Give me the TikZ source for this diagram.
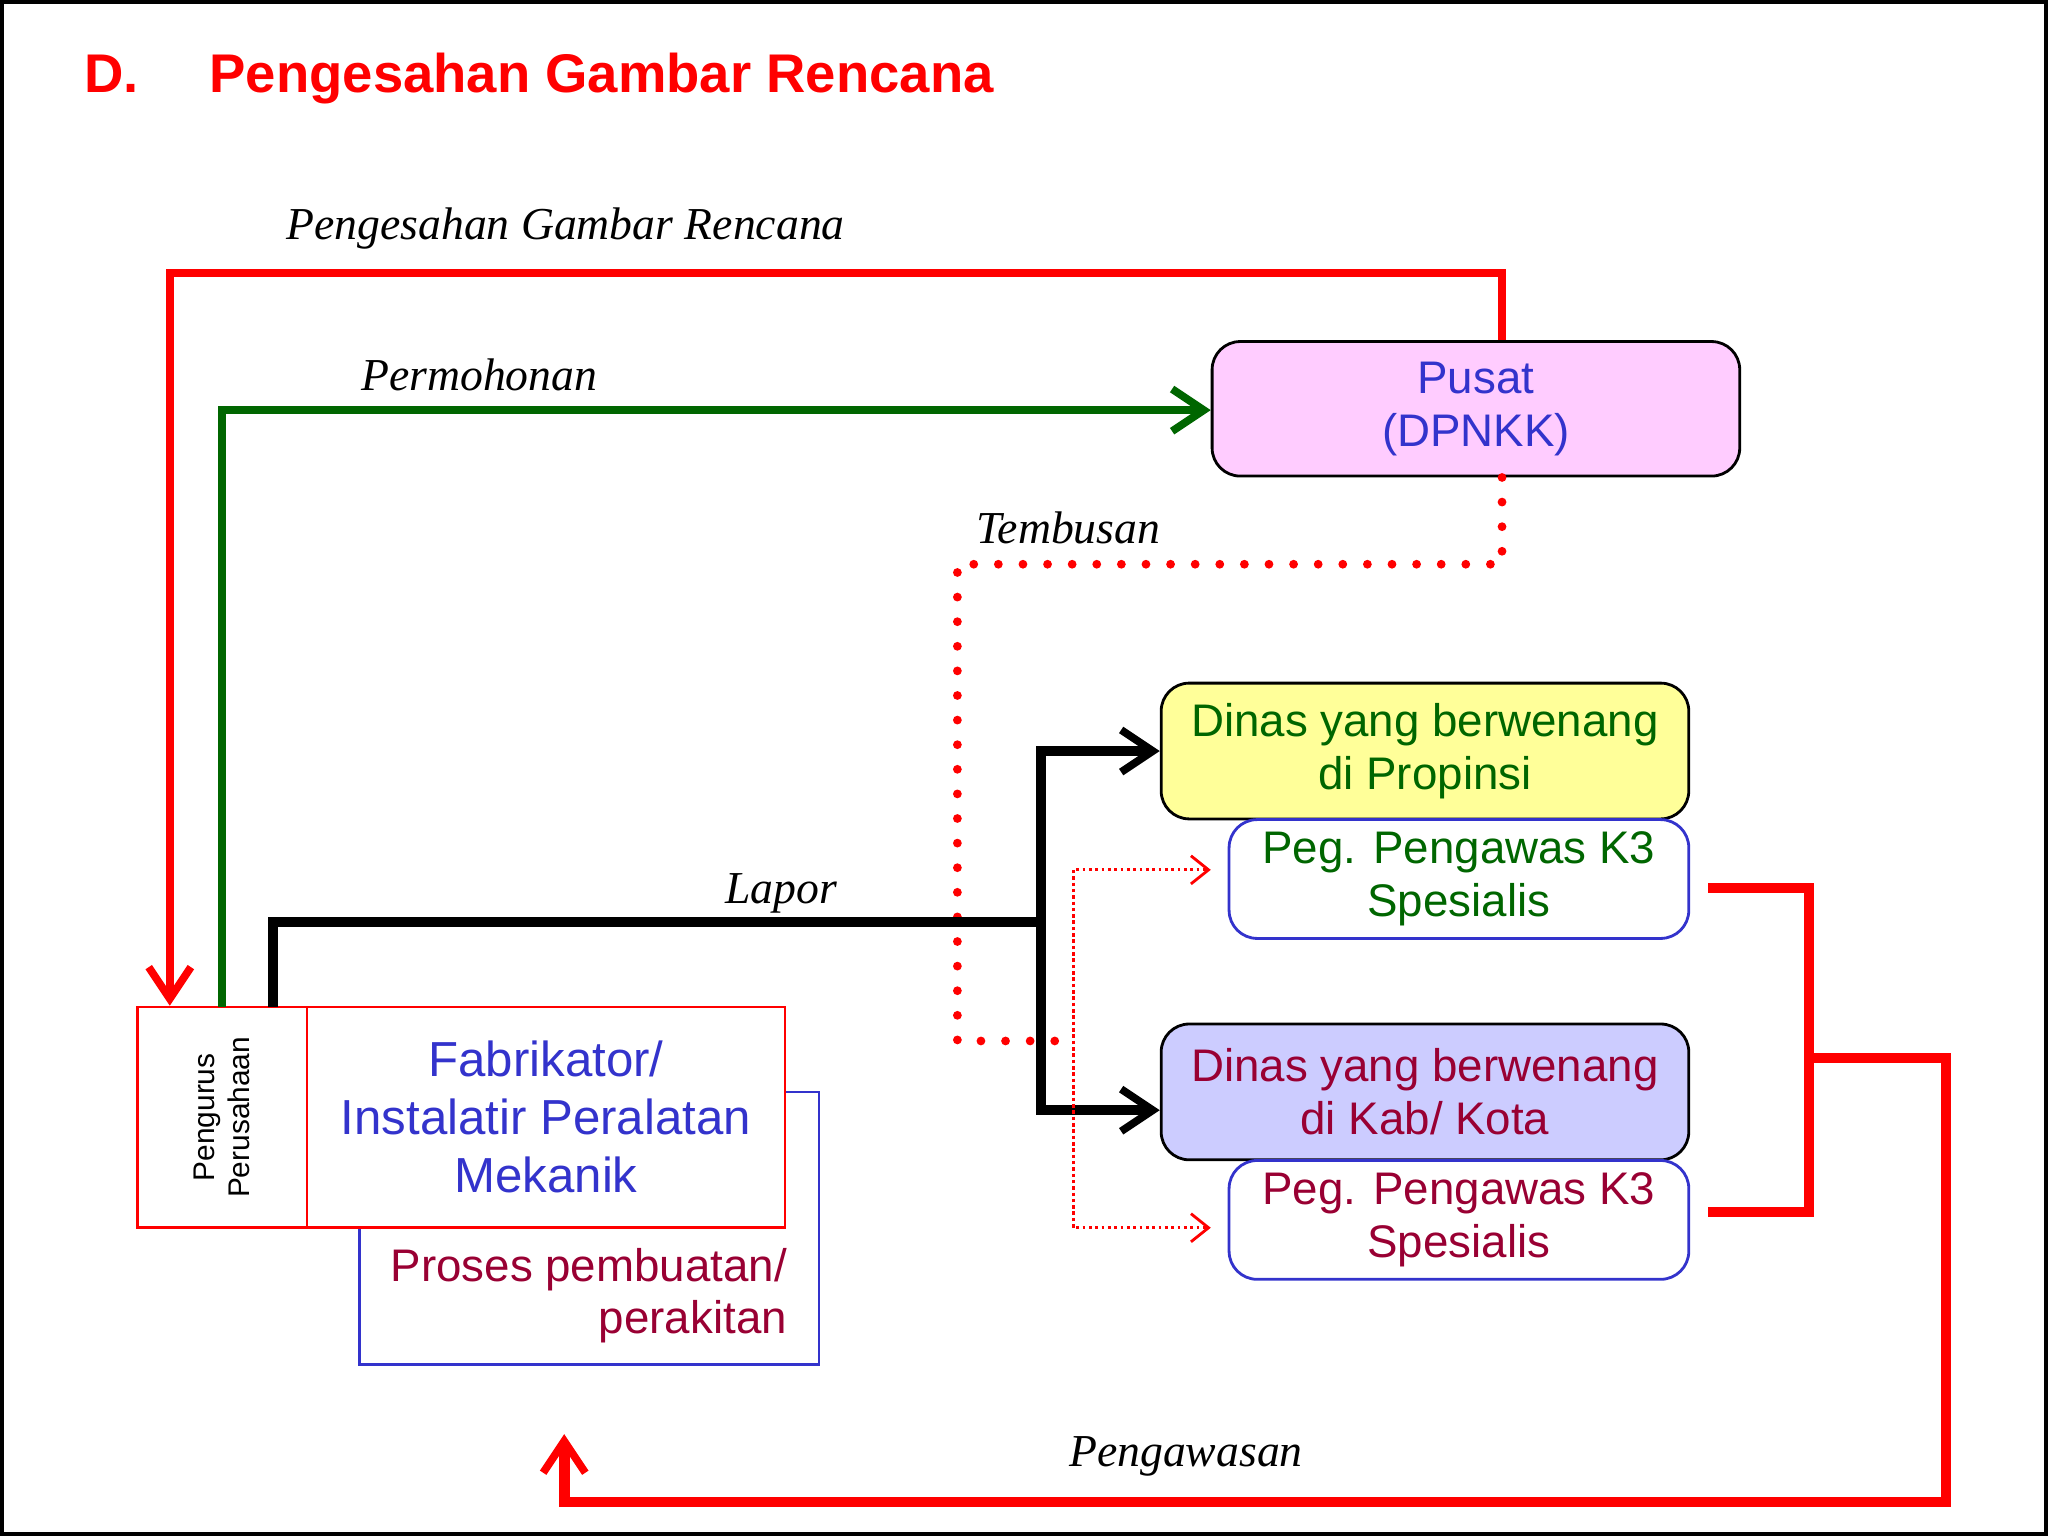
\documentclass[tikz,border=0pt]{standalone}
\usepackage{fontspec}
\setmainfont{Liberation Sans}
\newfontfamily\ital{Liberation Serif}
\usetikzlibrary{arrows.meta}
\definecolor{tred}{HTML}{FF0000}
\definecolor{tblue}{HTML}{3333CC}
\definecolor{tgreen}{HTML}{006600}
\definecolor{tdred}{HTML}{990033}
\definecolor{pinkf}{HTML}{FFCCFF}
\definecolor{yelf}{HTML}{FFFF99}
\definecolor{lavf}{HTML}{CCCCFF}
\def\u{0.3716pt}
\begin{document}
\begin{tikzpicture}[x=0.013061cm,y=-0.013061cm,
  box/.style={draw,rounded corners=8pt,line width=0.8pt,inner sep=0pt,align=center,font=\fontsize{13}{15}\selectfont},
  lab/.style={font=\ital\itshape\fontsize{13}{15}\selectfont},
  thick/.style={line width=2.2pt},
  tip/.style={-{Straight Barb[length=9pt,width=12pt,line width=2.2pt]}}]
\useasboundingbox (0,0) rectangle (1568,1176);
\draw[line width=1.5pt] (1,1) rectangle (1567,1175);
\node[anchor=west,text=tred,font=\bfseries\fontsize{15.5}{18}\selectfont] (title) at (55,60) {D.\hspace{1.3em}Pengesahan Gambar Rencana};
% boxes
\node[box,fill=pinkf,minimum width=404*\u,minimum height=103*\u,text=tblue] (pusat) at (1130,313) {Pusat\\(DPNKK)};
\node[box,fill=yelf,minimum width=404*\u,minimum height=104*\u,text=tgreen] (prop) at (1091,575) {Dinas yang berwenang\\di Propinsi};
\node[box,draw=tblue,fill=white,minimum width=352*\u,minimum height=91*\u,text=tgreen] (peg1) at (1117,673) {Peg. Pengawas K3\\Spesialis};
\node[box,fill=lavf,minimum width=404*\u,minimum height=104*\u,text=tdred] (kab) at (1091,836) {Dinas yang berwenang\\di Kab/ Kota};
\node[box,draw=tblue,fill=white,minimum width=352*\u,minimum height=91*\u,text=tdred] (peg2) at (1117,934) {Peg. Pengawas K3\\Spesialis};
\node[draw=tblue,line width=0.8pt,minimum width=352*\u,minimum height=209*\u,inner sep=0pt] (proses) at (451,940.5) {};
\node[anchor=south east,align=right,text=tdred,font=\fontsize{13}{15}\selectfont] (prosest) at (612,1038) {Proses pembuatan/\\perakitan};
\node[draw=tred,fill=white,line width=0.8pt,minimum width=366*\u,minimum height=169*\u,inner sep=0pt,align=center,text=tblue,font=\fontsize{14}{16.5}\selectfont] (fab) at (418,855.5) {Fabrikator/\\Instalatir Peralatan\\Mekanik};
\node[draw=tred,fill=white,line width=0.8pt,minimum width=130*\u,minimum height=169*\u,inner sep=0pt] (peng) at (170,855.5) {};
\node[rotate=90,align=center,font=\fontsize{8.5}{10}\selectfont] (pengt) at (170,855.5) {Pengurus\\Perusahaan};
% coordinates
\coordinate (a1) at (1150,209); \coordinate (a2) at (130,209); \coordinate (a3) at (130,770);
\draw[tred,thick,tip] (pusat.north -| a1) -- (a1) -- (a2) -- (a3);
\node[lab] (l1) at (433,175) {Pengesahan Gambar Rencana};
\coordinate (g0) at (170,771); \coordinate (g1) at (170,314);
\draw[tgreen,thick,tip] (g0) -- (g1) -- (g1 -| pusat.west);
\node[lab] (l2) at (367,287) {Permohonan};
\coordinate (t1) at (1150,432); \coordinate (t2) at (733,432); \coordinate (t3) at (733,797); \coordinate (t4) at (815,797);
\draw[tred,line width=2.5pt,dash pattern=on 0pt off 7pt,line cap=round] (pusat.south -| t1) -- (t1) -- (t2) -- (t3) -- (t4);
\node[lab] (l3) at (818,404) {Tembusan};
\coordinate (b0) at (209,771); \coordinate (b1) at (209,706); \coordinate (b2) at (797,706);
\coordinate (b3) at (797,575); \coordinate (b4) at (797,850);
\draw[line width=3pt] (b0) -- (b1) -- (b2);
\draw[line width=3pt,tip] (b4) -- (b3) -- (b3 -| prop.west);
\draw[line width=3pt,tip] (b3) -- (b4) -- (b4 -| kab.west);
\node[lab] (l4) at (598,684) {Lapor};
\coordinate (d1) at (822,666); \coordinate (d2) at (822,940);
\draw[tred,line width=0.8pt,densely dotted,-{Straight Barb[length=5pt,width=8pt]}] (d2) -- (d1) -- (927,666);
\draw[tred,line width=0.8pt,densely dotted,-{Straight Barb[length=5pt,width=8pt]}] (d1) -- (d2) -- (927,940);
\coordinate (r1) at (1308,680); \coordinate (r2) at (1385,680); \coordinate (r3) at (1385,928); \coordinate (r4) at (1308,928);
\draw[tred,line width=3pt] (r1) -- (r2) -- (r3) -- (r4);
\coordinate (s1) at (1385,810); \coordinate (s2) at (1490,810); \coordinate (s3) at (1490,1150); \coordinate (s4) at (432,1150); \coordinate (s5) at (432,1098);
\draw[tred,line width=3pt,tip] (s1) -- (s2) -- (s3) -- (s4) -- (s5);
\node[lab] (l5) at (908,1115) {Pengawasan};
\end{tikzpicture}
\end{document}
